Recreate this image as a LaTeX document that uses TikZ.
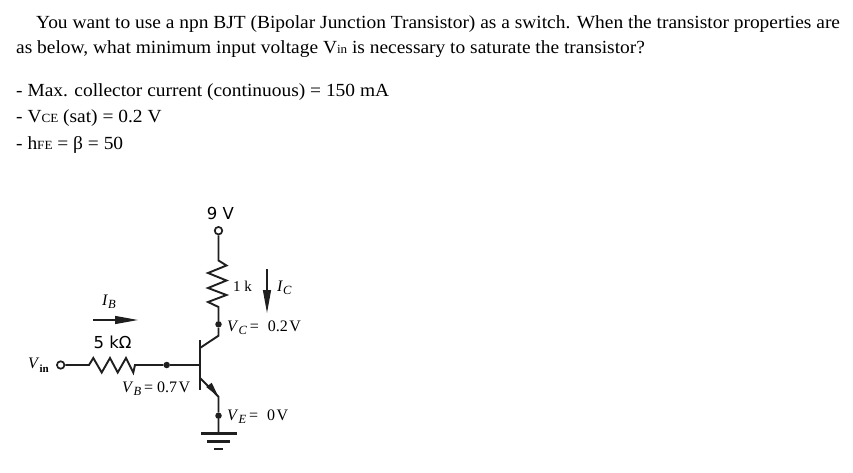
\documentclass[tikz,border=0pt]{standalone}
\usepackage{fontspec}
\setmainfont{Liberation Serif}
\newfontfamily\djsans{DejaVu Sans}
\newfontfamily\wideserif[FakeStretch=1.05]{Liberation Serif}
\usetikzlibrary{arrows.meta}
\tikzset{
 x=1pt,y=-1pt,
 txt/.style={anchor=base west,inner sep=0pt,font=\wideserif\fontsize{18.5}{20}\selectfont},
 lbl/.style={anchor=base west,inner sep=0pt,font=\fontsize{16}{18}\selectfont},
 sanslbl/.style={anchor=base,inner sep=0pt,font=\djsans\fontsize{16.5}{18}\selectfont},
 wire/.style={line width=1.9pt,black!88,line join=miter},
 term/.style={circle,draw=black!88,line width=1.7pt,fill=white,minimum size=7.5pt,inner sep=0pt},
 dotn/.style={circle,fill=black!88,minimum size=6.5pt,inner sep=0pt},
 gbar/.style={line width=2.6pt,black!88},
 cur/.style={line width=1.2pt,black!88,-{Triangle[length=23pt,width=8pt]}},
}
\newcommand{\sm}[1]{{\fontsize{12.5}{14}\selectfont #1}}
\newcommand{\subi}[1]{\raisebox{-3.5pt}{\fontsize{12.5}{14}\selectfont\textit{#1}}}
\begin{document}
\begin{tikzpicture}
\useasboundingbox (0,0) rectangle (853,473);
\node[txt] at (36,28.5) {You want to use a npn BJT (Bipolar Junction Transistor) as a switch. When the transistor properties are};
\node[txt] at (16,54) {as below, what minimum input voltage V\sm{in} is necessary to saturate the transistor?};
\node[txt] at (16,97) {- Max. collector current (continuous) = 150 mA};
\node[txt] at (16,123) {- V\sm{CE} (sat) = 0.2 V};
\node[txt] at (16,150) {- h\sm{FE} = β = 50};

% circuit
\node[term] (vcc) at (218.5,230.7) {};
\node[sanslbl] (l9) at (220.5,219) {9 V};
\coordinate (rct) at (218.5,260.5);
\coordinate (rcb) at (218.5,307);
\node[dotn] (nc) at (218.5,324.3) {};
\coordinate (col) at (218.5,335.7);
\coordinate (bc) at (200,348);
\coordinate (be) at (200,378);
\coordinate (barT) at (200,340);
\coordinate (barB) at (200,390);
\coordinate (emi) at (218.5,396.7);
\node[dotn] (ne) at (218.5,415.7) {};
\coordinate (gnd) at (218.5,433.3);
\node[term] (vin) at (60.7,365) {};
\coordinate (rbl) at (89,365);
\coordinate (rbr) at (135,365);
\node[dotn] (nb) at (166.7,365) {};
\coordinate (base) at (200,365);

\draw[wire] (vcc) -- (rct) -- (226.5,265.5) -- (208,273) -- (226.5,280.5) -- (208,288) -- (226.5,295) -- (208,302) -- (rcb) -- (nc) -- (col) -- (bc);
\draw[wire,line width=2.3pt] (barT) -- (barB);
\draw[wire] (vin) -- (rbl) -- (93.3,358) -- (101.7,372.5) -- (110,358) -- (117.7,372.5) -- (126,358) -- (133.3,372.5) -- (rbr) -- (nb) -- (base);
\draw[wire] (be) -- (emi) -- (ne) -- (gnd);
\path[fill=black!88] (218.5,396.7) -- (206.2,387) -- (211.7,382.8) -- cycle;
\draw[gbar] (201,433.3) -- (236.7,433.3);
\draw[gbar] (207,441.3) -- (230,441.3);
\draw[gbar] (214,449) -- (223,449);

\coordinate (ib1) at (93,320);
\coordinate (ib2) at (138,320);
\draw[cur] (ib1) -- (ib2);
\coordinate (ic1) at (267,269);
\coordinate (ic2) at (267,313);
\draw[cur] (ic1) -- (ic2);

\node[sanslbl] (l5k) at (112.5,348) {5 kΩ};
\node[lbl] (lvin) at (28,368) {\textit{V}\raisebox{-4pt}{\bfseries\fontsize{11}{12}\selectfont in}};
\node[lbl] (lib) at (102,305) {\textit{I}\subi{B}};
\node[lbl] (lic) at (277,291) {\textit{I}\subi{C}};
\node[lbl,font=\fontsize{15}{16}\selectfont] (l1k) at (233,291) {1 k};
\node[lbl] (lvc) at (227,331) {\textit{V}\subi{C}\kern3pt=\kern9pt0.2\kern1.5pt V};
\node[lbl] (lvb) at (122,392) {\textit{V}\subi{B}\kern3pt=\kern4pt0.7\kern1.5pt V};
\node[lbl] (lve) at (227,420) {\textit{V}\subi{E}\kern3pt=\kern9pt0\kern1.5pt V};
\end{tikzpicture}
\end{document}
